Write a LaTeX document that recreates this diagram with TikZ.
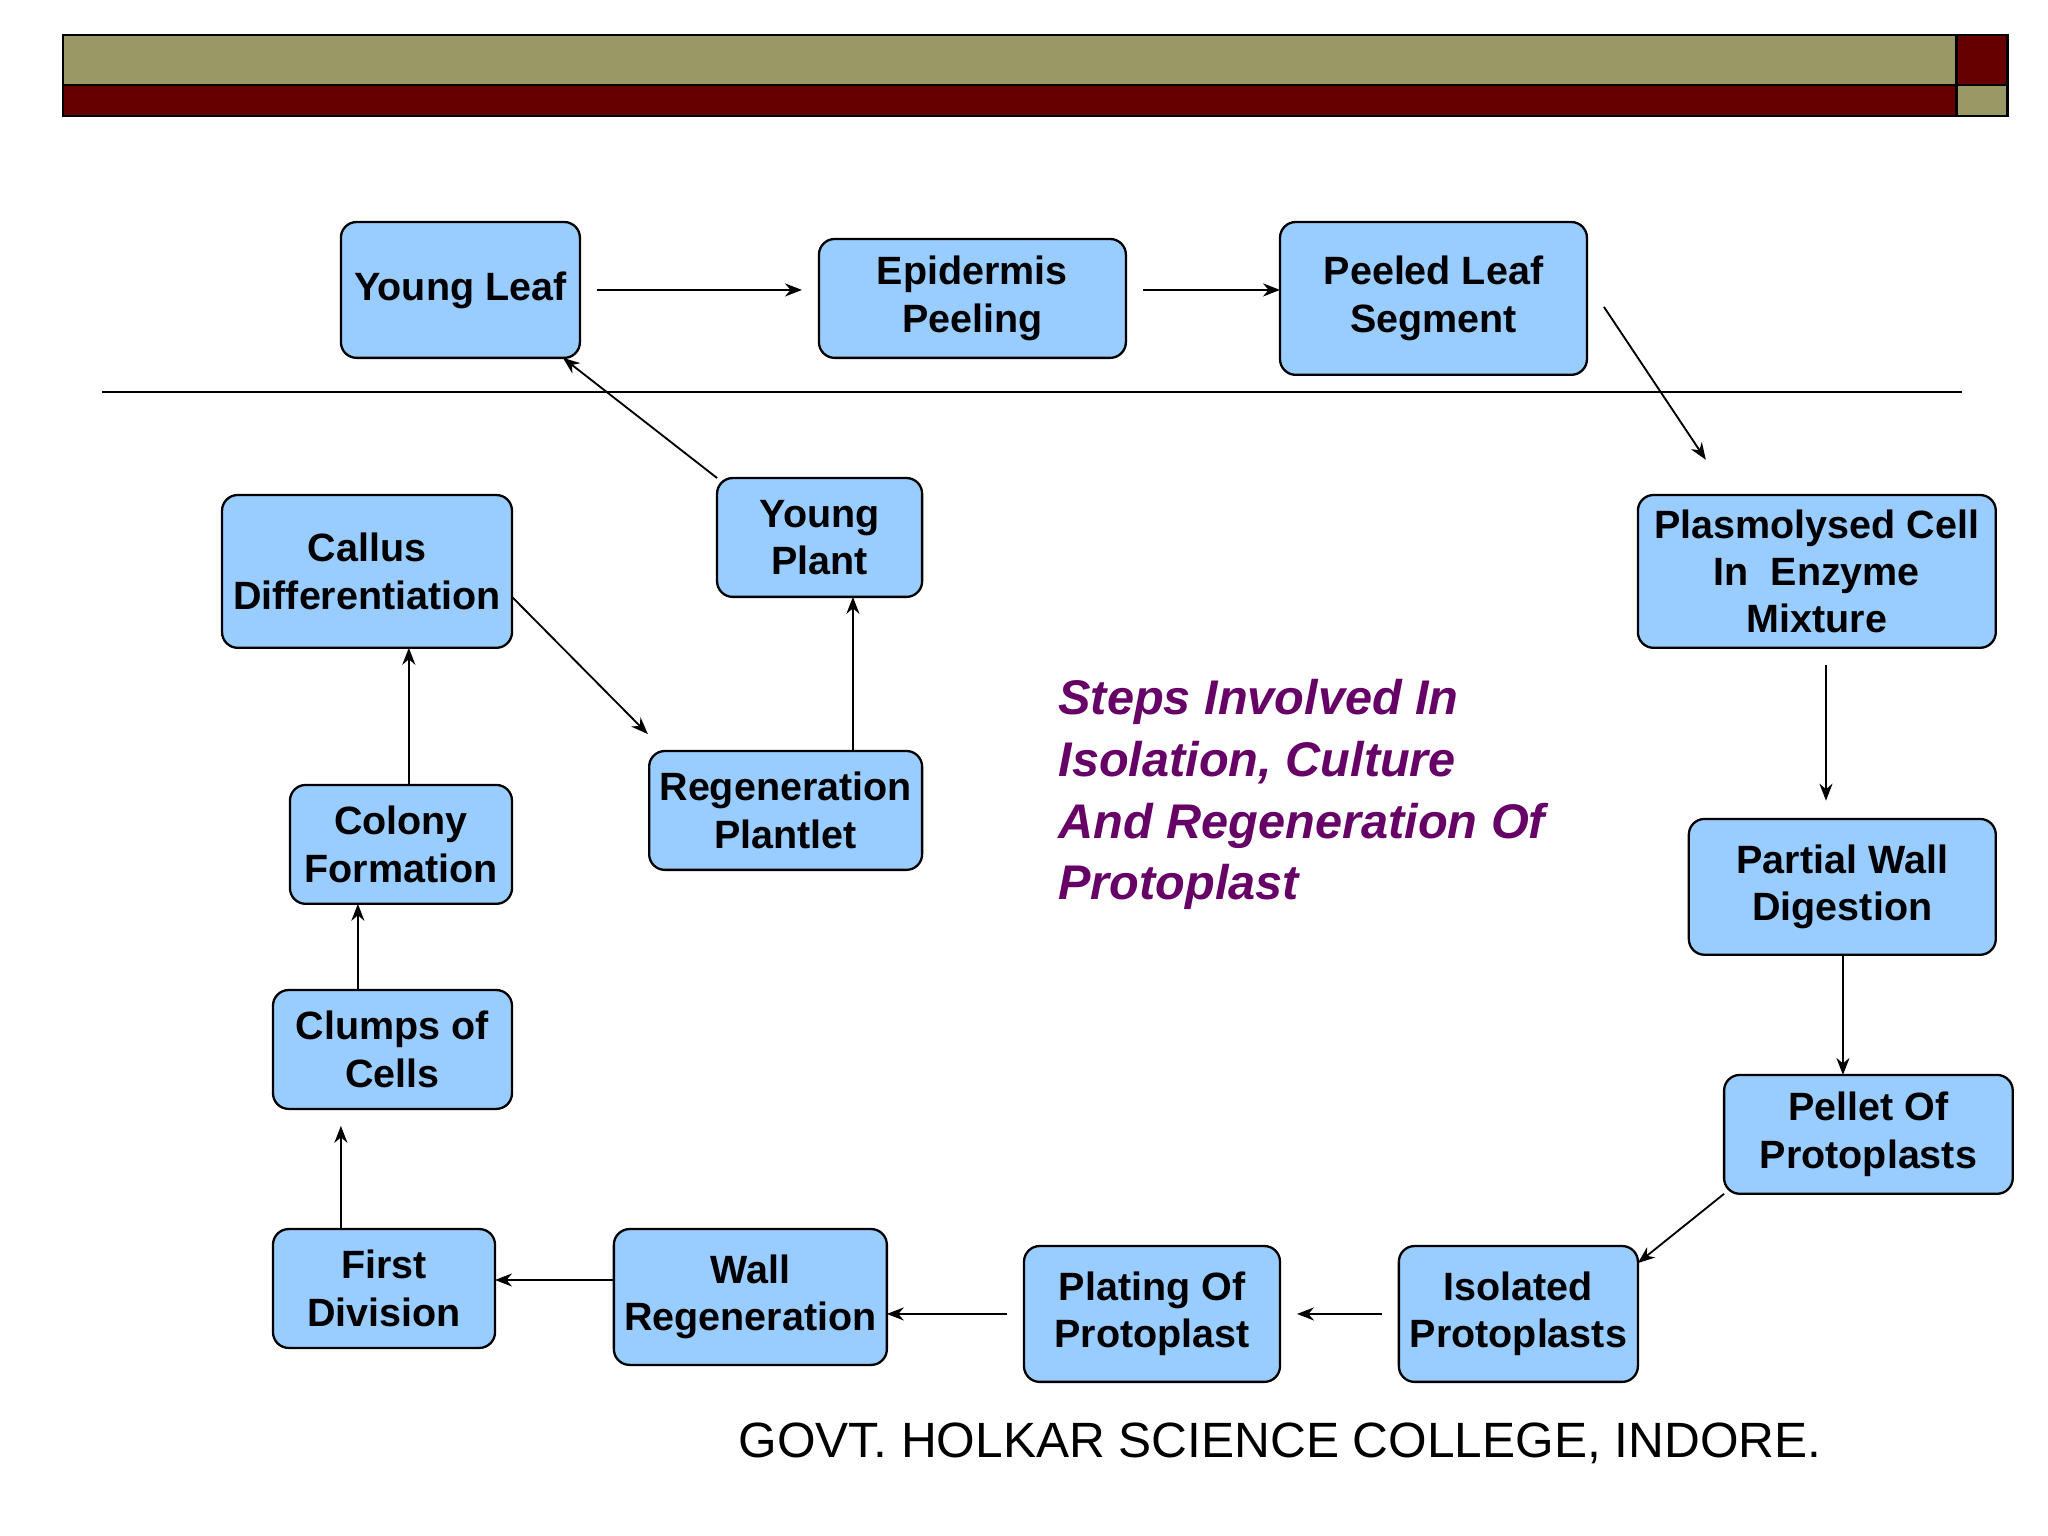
\documentclass[tikz,border=0pt]{standalone}
\usepackage{fontspec}
\setmainfont{Liberation Sans}
\usetikzlibrary{arrows.meta}
\definecolor{olivebar}{HTML}{999966}
\definecolor{redbar}{HTML}{660000}
\definecolor{boxblue}{HTML}{99CCFF}
\definecolor{titlepurple}{HTML}{660066}
\begin{document}
\begin{tikzpicture}
\useasboundingbox (0,0) rectangle (15.68,-11.76);
\tikzset{
 box/.style={draw=black,fill=boxblue,rounded corners=0.12cm,line width=0.5pt,align=center,inner sep=0pt,font=\fontsize{8.6}{10.3}\selectfont\bfseries},
 arr/.style={-{Stealth[length=0.13cm,width=0.1cm]},line width=0.4pt}
}
% top bar
\fill[olivebar] (0.48,-0.27) rectangle (14.98,-0.65);
\fill[redbar] (0.48,-0.65) rectangle (14.98,-0.89);
\fill[redbar] (14.98,-0.27) rectangle (15.37,-0.65);
\fill[olivebar] (14.98,-0.65) rectangle (15.37,-0.89);
\draw[line width=0.5pt] (0.48,-0.27) rectangle (15.37,-0.89);
\draw[line width=0.5pt] (0.48,-0.65) -- (15.37,-0.65) (14.98,-0.27) -- (14.98,-0.89);
% separator
\draw[line width=0.5pt] (0.78,-3.0) -- (15.02,-3.0);
% nodes
\node[box,minimum width=1.83cm,minimum height=1.04cm] (yl) at (3.525,-2.22) {Young Leaf};
\node[box,minimum width=2.35cm,minimum height=0.91cm] (ep) at (7.445,-2.285) {Epidermis\\Peeling};
\node[box,minimum width=2.35cm,minimum height=1.17cm] (pl) at (10.975,-2.285) {Peeled Leaf\\Segment};
\node[box,minimum width=2.74cm,minimum height=1.17cm] (pc) at (13.91,-4.375) {Plasmolysed Cell\\In\ \ Enzyme\\Mixture};
\node[box,minimum width=2.35cm,minimum height=1.04cm] (pw) at (14.105,-6.79) {Partial Wall\\Digestion};
\node[box,minimum width=2.21cm,minimum height=0.91cm] (po) at (14.305,-8.685) {Pellet Of\\Protoplasts};
\node[box,minimum width=1.83cm,minimum height=1.04cm] (ip) at (11.625,-10.06) {Isolated\\Protoplasts};
\node[box,minimum width=1.96cm,minimum height=1.04cm] (pp) at (8.82,-10.06) {Plating Of\\Protoplast};
\node[box,minimum width=2.09cm,minimum height=1.04cm] (wr) at (5.745,-9.93) {Wall\\Regeneration};
\node[box,minimum width=1.70cm,minimum height=0.91cm] (fd) at (2.94,-9.865) {First\\Division};
\node[box,minimum width=1.83cm,minimum height=0.91cm] (cc) at (3.005,-8.035) {Clumps of\\Cells};
\node[box,minimum width=1.70cm,minimum height=0.91cm] (cf) at (3.07,-6.465) {Colony\\Formation};
\node[box,minimum width=2.22cm,minimum height=1.17cm] (cd) at (2.81,-4.375) {Callus\\Differentiation};
\node[box,minimum width=2.09cm,minimum height=0.91cm] (rp) at (6.015,-6.205) {Regeneration\\Plantlet};
\node[box,minimum width=1.57cm,minimum height=0.91cm] (yp) at (6.275,-4.115) {Young\\Plant};
% free arrow ends
\coordinate (a1) at (4.57,-2.22); \coordinate (a2) at (6.14,-2.22);
\coordinate (b1) at (8.75,-2.22); \coordinate (b2) at (9.80,-2.22);
\coordinate (c1) at (12.28,-2.35); \coordinate (c2) at (13.06,-3.52);
\coordinate (d1) at (13.98,-5.09); \coordinate (d2) at (13.98,-6.13);
\coordinate (e1) at (14.11,-7.31); \coordinate (e2) at (14.11,-8.23);
\coordinate (f1) at (13.20,-9.14); \coordinate (f2) at (12.54,-9.67);
\coordinate (g1) at (10.58,-10.06); \coordinate (g2) at (9.93,-10.06);
\coordinate (h1) at (7.71,-10.06); \coordinate (h2) at (6.79,-10.06);
\coordinate (i1) at (4.70,-9.80); \coordinate (i2) at (3.79,-9.80);
\coordinate (j1) at (2.61,-9.41); \coordinate (j2) at (2.61,-8.62);
\coordinate (k1) at (2.74,-7.58); \coordinate (k2) at (2.74,-6.92);
\coordinate (l1) at (3.13,-6.01); \coordinate (l2) at (3.13,-4.96);
\coordinate (m1) at (3.92,-4.57); \coordinate (m2) at (4.96,-5.62);
\coordinate (n1) at (6.53,-5.75); \coordinate (n2) at (6.53,-4.57);
\coordinate (o1) at (5.49,-3.66); \coordinate (o2) at (4.31,-2.74);
\foreach \s/\t in {a1/a2,b1/b2,c1/c2,d1/d2,e1/e2,f1/f2,g1/g2,h1/h2,i1/i2,j1/j2,k1/k2,l1/l2,m1/m2,n1/n2,o1/o2}
  \draw[arr] (\s) -- (\t);
% title
\node[anchor=north west,align=left,text=titlepurple,font=\fontsize{10.6}{13.4}\selectfont\bfseries\itshape] (title) at (7.98,-5.08) {Steps Involved In\\Isolation, Culture\\And Regeneration Of\\Protoplast};
% footer
\node[anchor=center,font=\fontsize{10.8}{13}\selectfont] (foot) at (9.80,-11.05) {GOVT. HOLKAR SCIENCE COLLEGE, INDORE.};
\end{tikzpicture}
\end{document}
